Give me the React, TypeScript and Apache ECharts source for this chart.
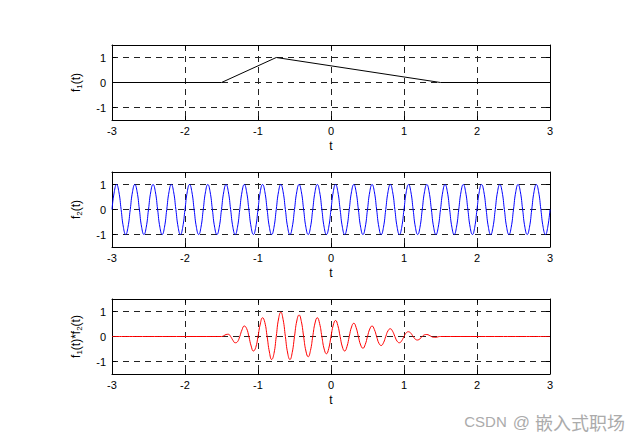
import React, { useEffect, useRef } from "react";
import * as echarts from "echarts";

// ---- data ----
const xTicks = [-3, -2, -1, 0, 1, 2, 3];
const yTicks = [-1, 0, 1];

// f1(t): piecewise linear breakpoints
const f1T = [-3, -1.5, -0.75, 1.5, 3];
const f1V = [0, 0, 1, 0, 0];

// f2(t): samples every 1/32 from t = -3 (eighth periods)
const f2Start = -3;
const f2Step = 1 / 32;
const f2V = [
  0, 0.71, 1, 0.71, 0, -0.71, -1, -0.71,
  0, 0.71, 1, 0.71, 0, -0.71, -1, -0.71,
  0, 0.71, 1, 0.71, 0, -0.71, -1, -0.71,
  0, 0.71, 1, 0.71, 0, -0.71, -1, -0.71,
  0, 0.71, 1, 0.71, 0, -0.71, -1, -0.71,
  0, 0.71, 1, 0.71, 0, -0.71, -1, -0.71,
  0, 0.71, 1, 0.71, 0, -0.71, -1, -0.71,
  0, 0.71, 1, 0.71, 0, -0.71, -1, -0.71,
  0, 0.71, 1, 0.71, 0, -0.71, -1, -0.71,
  0, 0.71, 1, 0.71, 0, -0.71, -1, -0.71,
  0, 0.71, 1, 0.71, 0, -0.71, -1, -0.71,
  0, 0.71, 1, 0.71, 0, -0.71, -1, -0.71,
  0, 0.71, 1, 0.71, 0, -0.71, -1, -0.71,
  0, 0.71, 1, 0.71, 0, -0.71, -1, -0.71,
  0, 0.71, 1, 0.71, 0, -0.71, -1, -0.71,
  0, 0.71, 1, 0.71, 0, -0.71, -1, -0.71,
  0, 0.71, 1, 0.71, 0, -0.71, -1, -0.71,
  0, 0.71, 1, 0.71, 0, -0.71, -1, -0.71,
  0, 0.71, 1, 0.71, 0, -0.71, -1, -0.71,
  0, 0.71, 1, 0.71, 0, -0.71, -1, -0.71,
  0, 0.71, 1, 0.71, 0, -0.71, -1, -0.71,
  0, 0.71, 1, 0.71, 0, -0.71, -1, -0.71,
  0, 0.71, 1, 0.71, 0, -0.71, -1, -0.71,
  0, 0.71, 1, 0.71, 0, -0.71, -1, -0.71,
  0,
];

// f1(t)*f2(t): zero outside [-1.5, 1.5]; samples every 1/32 inside
const prodStart = -1.5;
const prodStep = 1 / 32;
const prodV = [
  0, 0.03, 0.08, 0.09, 0, -0.15, -0.25, -0.21,
  0, 0.27, 0.42, 0.32, 0, -0.38, -0.58, -0.44,
  0, 0.5, 0.75, 0.56, 0, -0.62, -0.92, -0.68,
  0, 0.7, 0.97, 0.68, 0, -0.66, -0.92, -0.64,
  0, 0.62, 0.86, 0.6, 0, -0.58, -0.81, -0.56,
  0, 0.54, 0.75, 0.52, 0, -0.5, -0.69, -0.48,
  0, 0.46, 0.64, 0.44, 0, -0.42, -0.58, -0.4,
  0, 0.38, 0.53, 0.36, 0, -0.34, -0.47, -0.32,
  0, 0.3, 0.42, 0.28, 0, -0.27, -0.36, -0.25,
  0, 0.23, 0.31, 0.21, 0, -0.19, -0.25, -0.17,
  0, 0.15, 0.19, 0.13, 0, -0.11, -0.14, -0.09,
  0, 0.07, 0.08, 0.05, 0, -0.03, -0.03, -0.01,
  0,
];
const prodOuterT = [-3, 3];

const FONT = "'Liberation Sans', Arial, sans-serif";

export default function App() {
  const ref = useRef<HTMLDivElement>(null);

  useEffect(() => {
    if (!ref.current) return;
    const chart = echarts.init(ref.current, null, { renderer: "svg" });

    const tops = [45, 172, 299];
    const gridH = 75;
    const left = 112;
    const width = 438;

    const f1Data = f1T.map((t, i) => [t, f1V[i]]);
    const f2Data = f2V.map((v, i) => [f2Start + i * f2Step, v]);
    const prodData: number[][] = [[prodOuterT[0], 0]];
    prodV.forEach((v, i) => prodData.push([prodStart + i * prodStep, v]));
    prodData.push([prodOuterT[1], 0]);

    const names = [
      "{m|f}{s|1}{m|(t)}",
      "{m|f}{s|2}{m|(t)}",
      "{m|f}{s|1}{m|(t)*f}{s|2}{m|(t)}",
    ];

    const grids: any[] = [];
    const xAxes: any[] = [];
    const yAxes: any[] = [];
    const dash = { color: "#222", width: 1, type: [6, 5] };
    const tickStyle = { show: true, inside: true, length: 4, lineStyle: { color: "#000" } };
    const lineStyle = { show: true, onZero: false, lineStyle: { color: "#000", width: 1 } };

    tops.forEach((top, g) => {
      grids.push({ left, top, width, height: gridH, containLabel: false });
      xAxes.push({
        type: "value",
        gridIndex: g,
        min: xTicks[0],
        max: xTicks[xTicks.length - 1],
        interval: 1,
        position: "bottom",
        name: "t",
        nameLocation: "middle",
        nameGap: 20,
        nameTextStyle: { fontFamily: FONT, fontSize: 12, color: "#000" },
        axisLine: lineStyle,
        axisTick: tickStyle,
        axisLabel: { fontFamily: FONT, fontSize: 11, color: "#000", margin: 5 },
        splitLine: { show: true, lineStyle: dash },
      });
      xAxes.push({
        type: "value",
        gridIndex: g,
        min: xTicks[0],
        max: xTicks[xTicks.length - 1],
        interval: 1,
        position: "top",
        axisLine: lineStyle,
        axisTick: tickStyle,
        axisLabel: { show: false },
        splitLine: { show: false },
      });
      yAxes.push({
        type: "value",
        gridIndex: g,
        min: -1.5,
        max: 1.5,
        splitNumber: 3,
        position: "left",
        name: names[g],
        nameLocation: "middle",
        nameRotate: 90,
        nameGap: 29,
        nameTextStyle: {
          fontFamily: FONT,
          color: "#000",
          rich: {
            m: { fontFamily: FONT, fontSize: 12, color: "#000" },
            s: { fontFamily: FONT, fontSize: 8, color: "#000", padding: [7, 0, 0, 0] },
          },
        },
        axisLine: lineStyle,
        axisTick: { ...tickStyle, customValues: yTicks },
        axisLabel: {
          fontFamily: FONT,
          fontSize: 11,
          color: "#000",
          margin: 6,
          customValues: yTicks,
        },
        splitLine: { show: true, lineStyle: dash, customValues: yTicks },
      });
      yAxes.push({
        type: "value",
        gridIndex: g,
        min: -1.5,
        max: 1.5,
        splitNumber: 3,
        position: "right",
        axisLine: lineStyle,
        axisTick: { ...tickStyle, customValues: yTicks },
        axisLabel: { show: false },
        splitLine: { show: false },
      });
    });

    const mkSeries = (g: number, data: number[][], color: string, smooth: boolean) => ({
      type: "line",
      xAxisIndex: g * 2,
      yAxisIndex: g * 2,
      data,
      smooth,
      showSymbol: false,
      symbol: "none",
      lineStyle: { color, width: 1 },
      z: 3,
    });

    chart.setOption({
      animation: false,
      backgroundColor: "#fff",
      grid: grids,
      xAxis: xAxes,
      yAxis: yAxes,
      series: [
        mkSeries(0, f1Data, "#000", false),
        mkSeries(1, f2Data, "#0000ff", true),
        mkSeries(2, prodData, "#ff0000", true),
      ],
      graphic: [
        {
          type: "text",
          right: 16,
          top: 413,
          style: {
            text: "{a|CSDN}{c|@}{b|嵌入式职场}",
            rich: {
              a: { fontFamily: FONT, fontSize: 15, fill: "#ababab", color: "#ababab" },
              c: { fontFamily: FONT, fontSize: 17, fill: "#ababab", color: "#ababab", padding: [0, 5, 0, 6] },
              b: { fontFamily: "'Noto Sans CJK SC', sans-serif", fontSize: 18, fill: "#ababab", color: "#ababab" },
            },
          },
        },
      ],
    });

    return () => chart.dispose();
  }, []);

  return (
    <div
      ref={ref}
      style={{ position: "fixed", left: 0, top: 0, width: 641, height: 444, background: "#fff" }}
    />
  );
}
